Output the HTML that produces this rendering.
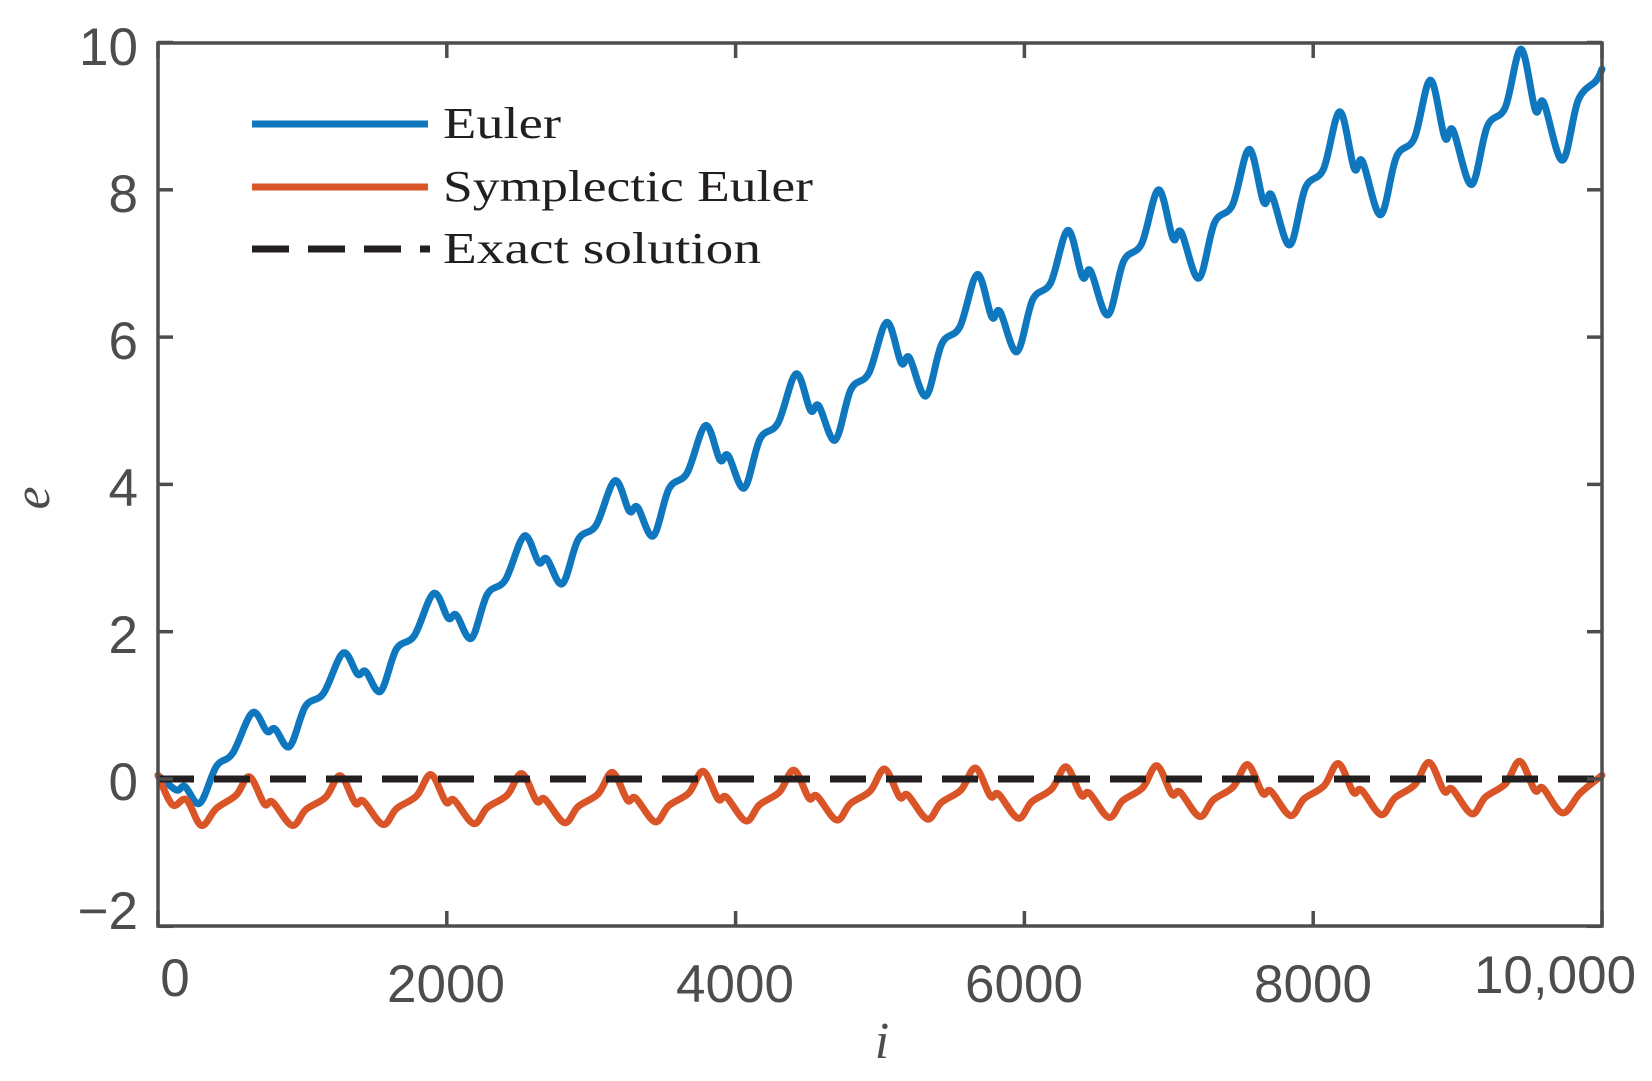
<!DOCTYPE html>
<html><head><meta charset="utf-8"><style>
html,body{margin:0;padding:0;background:#fff;}
svg{display:block;}
</style></head><body>
<svg id="s" width="1652" height="1081" viewBox="0 0 1652 1081" xmlns="http://www.w3.org/2000/svg">
<rect width="1652" height="1081" fill="#fff"/>
<g id="series"></g>
<g stroke="#4d4d4d" stroke-width="3.5" fill="none">
<rect x="158" y="43" width="1444" height="883"/>
</g>
<g id="ticks" stroke="#4d4d4d" stroke-width="3.5"></g>
<g font-family="Liberation Sans, sans-serif" font-size="53" fill="#4d4d4d">
<g text-anchor="end">
<text x="138" y="65">10</text>
<text x="138" y="212">8</text>
<text x="138" y="359">6</text>
<text x="138" y="506">4</text>
<text x="138" y="653">2</text>
<text x="138" y="800">0</text>
<text x="138" y="929">−2</text>
</g>
<g text-anchor="middle">
<text x="175" y="996">0</text>
<text x="446" y="1002">2000</text>
<text x="735" y="1002">4000</text>
<text x="1024" y="1002">6000</text>
<text x="1313" y="1002">8000</text>
<text x="1555" y="993">10,000</text>
</g>
</g>
<text x="882" y="1058" font-family="Liberation Serif, serif" font-style="italic" font-size="52" fill="#4d4d4d" text-anchor="middle">i</text>
<text transform="translate(49,498) rotate(-90)" font-family="Liberation Serif, serif" font-style="italic" font-size="52" fill="#4d4d4d" text-anchor="middle">e</text>
<g font-family="Liberation Serif, serif" font-size="44" fill="#231f20">
<line x1="252" y1="124" x2="428" y2="124" stroke="#0f77be" stroke-width="7"/>
<line x1="252" y1="187" x2="428" y2="187" stroke="#d95427" stroke-width="7"/>
<line x1="252" y1="249" x2="430" y2="249" stroke="#231f20" stroke-width="7" stroke-dasharray="37 19"/>
<text x="443" y="138" textLength="118" lengthAdjust="spacingAndGlyphs">Euler</text>
<text x="443" y="201" textLength="370" lengthAdjust="spacingAndGlyphs">Symplectic Euler</text>
<text x="443" y="263" textLength="318" lengthAdjust="spacingAndGlyphs">Exact solution</text>
</g>
</svg>
<script>
(function(){
var NS="http://www.w3.org/2000/svg";
function X(i){return 158+i*0.1444;}
function Y(e){return 779-e*73.65;}
function path(pts){
  var p=pts.map(function(q){return [X(q[0]),Y(q[1])];});
  var d="M"+p[0][0].toFixed(1)+","+p[0][1].toFixed(1);
  for(var k=0;k<p.length-1;k++){
    var p0=p[k-1]||p[k],p1=p[k],p2=p[k+1],p3=p[k+2]||p[k+1];
    var c1x=p1[0]+(p2[0]-p0[0])/6,c1y=p1[1]+(p2[1]-p0[1])/6;
    var c2x=p2[0]-(p3[0]-p1[0])/6,c2y=p2[1]-(p3[1]-p1[1])/6;
    d+="C"+c1x.toFixed(1)+","+c1y.toFixed(1)+" "+c2x.toFixed(1)+","+c2y.toFixed(1)+" "+p2[0].toFixed(1)+","+p2[1].toFixed(1);
  }
  return d;
}
var P=[0.9,1.71,2.52,3.3,4.05,4.8,5.5,6.2,6.85,7.45,8.0,8.55,9.06,9.49,9.91];
var M=[0.44,1.19,1.91,2.65,3.3,3.95,4.6,5.2,5.8,6.3,6.8,7.25,7.66,8.07,8.40];
var per=627.5, p0=654;
var b=[[0,0.05],[127,-0.15],[186,-0.1],[289,-0.33],[404,0.17],[517,0.35]];
for(var k=0;k<15;k++){
  var pk=p0+per*k, d=P[k]-M[k];
  var mo=257+(286-257)*k/14;
  b.push([pk,P[k]]);
  b.push([pk+100,P[k]-0.55*d]);
  b.push([pk+157,P[k]-0.48*d]);
  b.push([pk+mo,M[k]]);
  var Pn=(k<14)?P[k+1]:10.3;
  var r=Pn-M[k];
  b.push([pk+mo+110,M[k]+0.43*r]);
  b.push([pk+mo+235,M[k]+0.57*r]);
  if(k==14) b.push([10000,9.64]);
}
var o=[[0,0.05],[100,-0.35],[196,-0.28],[300,-0.63],[404,-0.4],[541,-0.22]];
var op0=634, oper=628.4;
for(var k=0;k<15;k++){
  var pk=op0+oper*k;
  var Pk=0.03+0.21*k/14, Mk=-0.63+0.17*k/14, D=Pk-Mk;
  o.push([pk,Pk]);
  o.push([pk+103,Pk-0.56*D]);
  o.push([pk+160,Pk-0.52*D]);
  o.push([pk+295,Mk]);
  var Pn=Pk+0.015, r=Pn-Mk;
  if(k<14){
    o.push([pk+390,Mk+0.32*r]);
    o.push([pk+528,Mk+0.57*r]);
  } else {
    o.push([pk+418,-0.19]);
    o.push([10000,0.05]);
  }
}
var g=document.getElementById("series");
function add(d,c,w){var e=document.createElementNS(NS,"path");e.setAttribute("d",d);e.setAttribute("fill","none");e.setAttribute("stroke",c);e.setAttribute("stroke-width",w);e.setAttribute("stroke-linejoin","round");e.setAttribute("stroke-linecap","round");g.appendChild(e);}
add(path(b),"#0f77be",7);
add(path(o),"#d95427",7);
var l=document.createElementNS(NS,"line");
l.setAttribute("x1",158);l.setAttribute("x2",1602);l.setAttribute("y1",779);l.setAttribute("y2",779);
l.setAttribute("stroke","#231f20");l.setAttribute("stroke-width",7);l.setAttribute("stroke-dasharray","36 20");
g.appendChild(l);
var t=document.getElementById("ticks");
function ln(x1,y1,x2,y2){var e=document.createElementNS(NS,"line");e.setAttribute("x1",x1);e.setAttribute("y1",y1);e.setAttribute("x2",x2);e.setAttribute("y2",y2);t.appendChild(e);}
for(var v=-2;v<=10;v+=2){var y=Y(v);ln(158,y,173,y);ln(1602,y,1587,y);}
for(var i=0;i<=10000;i+=2000){var x=X(i);ln(x,926,x,911);ln(x,43,x,58);}
})();
</script>
</body></html>
